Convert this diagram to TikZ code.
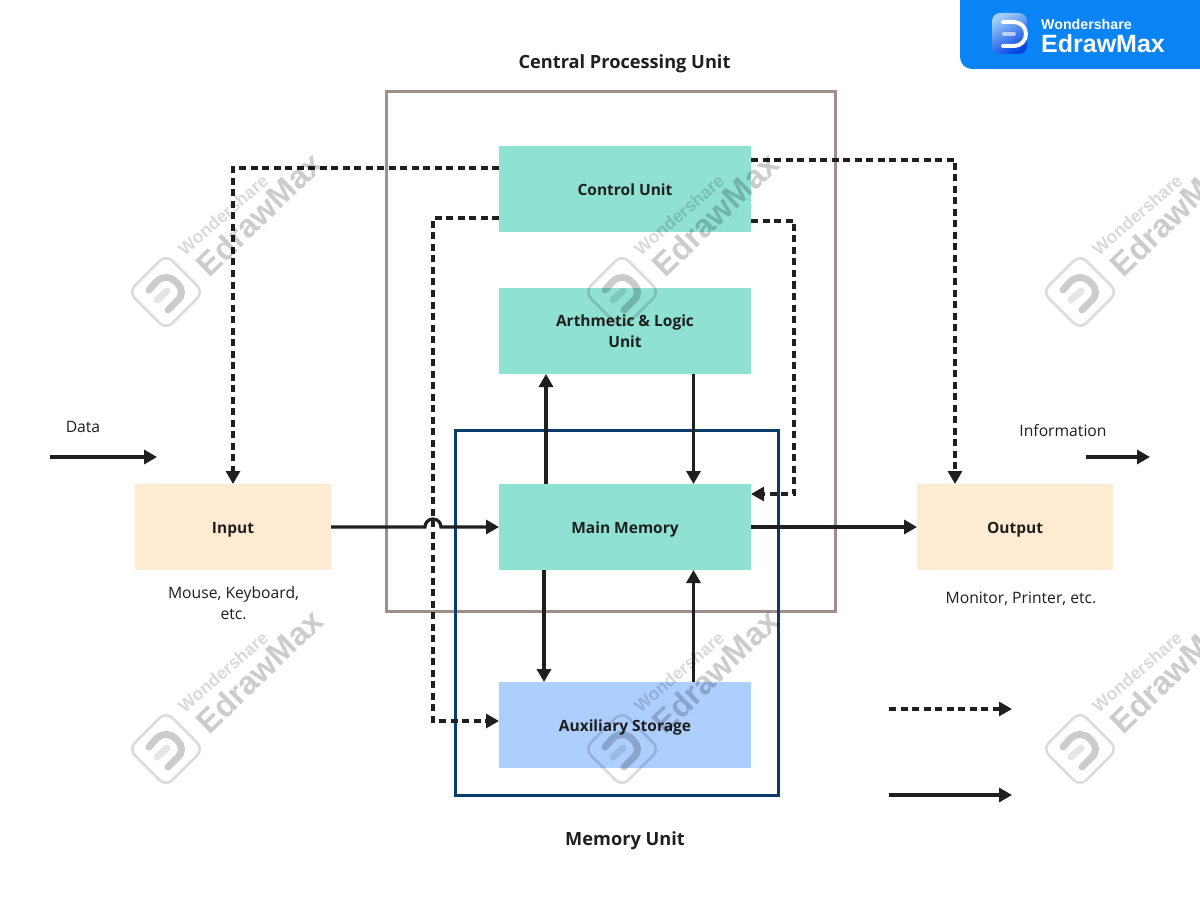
\documentclass[tikz,border=0pt]{standalone}
\usepackage{fontspec}
\setmainfont{Open Sans}
\newfontfamily\wmfont{Liberation Sans}
\usetikzlibrary{arrows.meta}
\definecolor{teal1}{HTML}{8FE1D2}
\definecolor{blue1}{HTML}{ADCFFF}
\definecolor{peach}{HTML}{FFEBD2}
\definecolor{cpuframe}{HTML}{A08E8B}
\definecolor{memframe}{HTML}{0B3A6B}
\definecolor{ink}{HTML}{1F1F1F}
\definecolor{badge}{HTML}{0A84F5}
\tikzset{
  unitbox/.style={draw=none,fill=#1,minimum width=252pt,minimum height=86pt,inner sep=0pt,outer sep=0pt,align=center,font=\bfseries\fontsize{15.5}{21}\selectfont,text=ink},
  oneline/.style={text height=13.5pt,text depth=0pt},
  iobox/.style={draw=none,fill=peach,minimum width=196pt,minimum height=86pt,inner sep=0pt,outer sep=0pt,font=\bfseries\fontsize{15.5}{21}\selectfont,text=ink,oneline},
  framebox/.style={draw=#1,line width=3pt,fill=none,inner sep=0pt,outer sep=0pt},
  note/.style={font=\fontsize{15.7}{21}\selectfont,text=ink,align=center,inner sep=0pt},
  title/.style={font=\bfseries\fontsize{18.2}{22}\selectfont,text=ink,inner sep=0pt,text height=14pt,text depth=0pt},
  solidflow/.style={draw=ink,line width=3.2pt,-{Triangle[length=13pt,width=14pt]}},
  dashflow/.style={draw=ink,line width=3.05pt,dash pattern=on 7pt off 4.5pt,-{Triangle[length=13pt,width=14pt]}},
  wmtext/.style={inner sep=0pt,text=black,anchor=south west},
}
\newcommand{\wmark}[2]{%
  \begin{scope}[shift={(#1,#2)}]
    \begin{scope}[rotate=-45]
      \draw[black,opacity=0.14,line width=2.6pt,rounded corners=9pt] (-26.5,-26.5) rectangle (26.5,26.5);
    \end{scope}
    \draw[black,opacity=0.2,line width=7pt,line cap=round] (-17,-2) -- (-10,-10) .. controls (-3,-17) and (6,-15) .. (11,-9) .. controls (17,-3) and (17,4) .. (11,9) -- (2,18);
    \draw[black,opacity=0.1,line width=7pt,line cap=round] (-9,8) -- (1,-1);
    \node[wmtext,text opacity=0.15,rotate=41,font=\wmfont\bfseries\fontsize{17.6}{19}\selectfont] at (19,-35) {Wondershare};
    \node[wmtext,text opacity=0.2,rotate=44,font=\wmfont\bfseries\fontsize{32.5}{33}\selectfont] at (44,-13) {EdrawMax};
  \end{scope}}
\begin{document}
\begin{tikzpicture}[x=1pt,y=-1pt]
\useasboundingbox (0,0) rectangle (1200,912);
\fill[white] (0,0) rectangle (1200,912);
% frames
\node[framebox=cpuframe,minimum width=449pt,minimum height=519pt,anchor=north west] (cpu) at (386,92) {};
\node[framebox=memframe,minimum width=323pt,minimum height=365pt,anchor=north west] (mem) at (455,430) {};
% boxes
\node[unitbox=teal1,oneline,anchor=north west] (control) at (499,146) {Control Unit};
\node[unitbox=teal1,anchor=north west] (alu) at (499,288) {Arthmetic \& Logic\\Unit};
\node[unitbox=teal1,oneline,anchor=north west] (main) at (499,484) {Main Memory};
\node[unitbox=blue1,oneline,anchor=north west] (aux) at (499,682) {Auxiliary Storage};
\node[iobox,anchor=north west] (input) at (135,484) {Input};
\node[iobox,anchor=north west] (output) at (917,484) {Output};
% labels
\node[title] (cpulabel) at (624.5,62) {Central Processing Unit};
\node[title] (memlabel) at (625,838) {Memory Unit};
\node[note] (datalabel) at (83,427) {Data};
\node[note] (infolabel) at (1063,431) {Information};
\node[note] (inputnote) at (233.5,603) {Mouse, Keyboard,\\etc.};
\node[note] (outputnote) at (1021,598.5) {Monitor, Printer, etc.};
% free ends
\coordinate (d1) at (50,457); \coordinate (d2) at (157,457);
\coordinate (i1) at (1086,457); \coordinate (i2) at (1150,457);
\coordinate (l1) at (889,709); \coordinate (l2) at (1012,709);
\coordinate (l3) at (889,795); \coordinate (l4) at (1012,795);
\draw[solidflow] (d1) -- (d2);
\draw[solidflow] (i1) -- (i2);
\draw[dashflow] (l1) -- (l2);
\draw[solidflow] (l3) -- (l4);
% anchor points on the box sides
\coordinate (c1) at (499,168); \coordinate (c2) at (499,218);
\coordinate (c3) at (751,160); \coordinate (c4) at (751,221);
\coordinate (inN) at (233,484); \coordinate (outN) at (955,484);
\coordinate (auxW) at (499,721); \coordinate (mainE) at (751,494);
\coordinate (aluS1) at (546,374); \coordinate (aluS2) at (693.5,374);
\coordinate (mainN1) at (546,484); \coordinate (mainN2) at (693.5,484);
\coordinate (mainS1) at (544,570); \coordinate (mainS2) at (693.5,570);
\coordinate (auxN1) at (544,682); \coordinate (auxN2) at (693.5,682);
% dashed control lines
\draw[dashflow] (c1) -| (inN);
\draw[dashflow] (c2) -- (433,218) -- (433,721) -- (auxW);
\draw[dashflow] (c3) -| (outN);
\draw[dashflow] (c4) -- (794,221) -- (794,494) -- (mainE);
% solid data lines
\draw[solidflow] (aluS2) -- (mainN2);
\draw[solidflow] (mainN1) -- (aluS1);
\draw[solidflow] (mainS1) -- (auxN1);
\draw[solidflow] (auxN2) -- (mainS2);
\draw[solidflow] (input.east) -- (425,527) arc[start angle=180,end angle=0,radius=8pt] -- (main.west);
\draw[solidflow] (main.east) -- (output.west);
% watermarks
\wmark{166}{292}\wmark{622}{292}\wmark{1080}{292}
\wmark{166}{749}\wmark{622}{749}\wmark{1080}{749}
% badge
\fill[badge] (960,0) -- (1200,0) -- (1200,69) -- (972,69) arc[start angle=270,end angle=180,radius=12pt] -- cycle;
\shade[top color=badge!40!white,bottom color=badge!85!black!60!blue,shading angle=30,rounded corners=8pt] (992,13) rectangle (1027,54);
\draw[white,line width=4pt,line cap=round] (1003,22) -- (1014,22) arc[start angle=90,end angle=-90,radius=12pt] -- (1003,46);
\draw[white,opacity=0.6,line width=4pt,line cap=round] (1004,34) -- (1014,34);
\node[inner sep=0pt,anchor=west,text=white,font=\wmfont\bfseries\fontsize{14.2}{16}\selectfont] (brand1) at (1041,24) {Wondershare};
\node[inner sep=0pt,anchor=west,text=white,font=\wmfont\bfseries\fontsize{25}{25}\selectfont] (brand2) at (1041,44) {EdrawMax};
\end{tikzpicture}
\end{document}
